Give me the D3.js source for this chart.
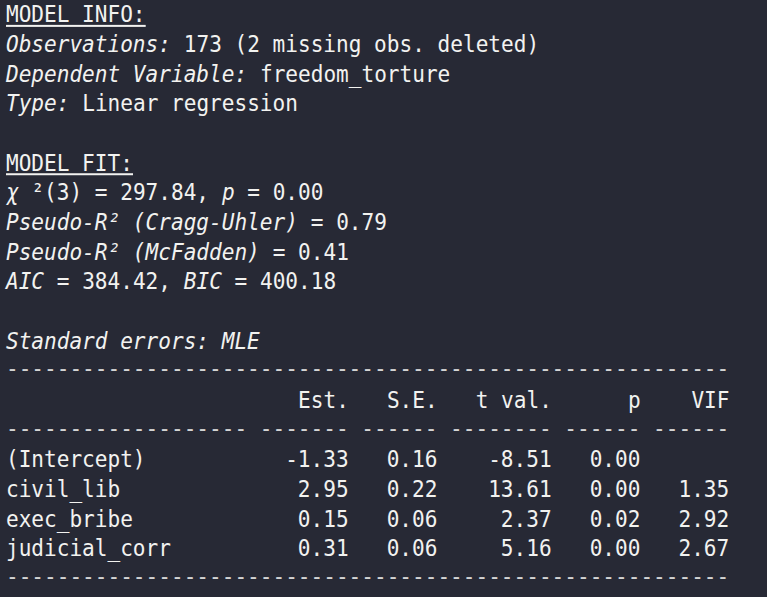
<!DOCTYPE html>
<html>
<head>
<meta charset="utf-8">
<script src="https://cdn.jsdelivr.net/npm/d3@7"></script>
<style>
  html, body { margin: 0; padding: 0; background: #272935; }
  svg { display: block; }
</style>
</head>
<body>
<div id="chart"></div>
<script>
// model info
var nObs = 173, nMissing = 2;
var depVar = "freedom_torture";
var modelType = "Linear regression";
// model fit
var chiDf = 3, chiSq = 297.84, chiP = 0.00;
var r2Cragg = 0.79, r2McFadden = 0.41;
var aic = 384.42, bic = 400.18;
var seType = "MLE";
// coefficient table
var terms = ["(Intercept)", "civil_lib", "exec_bribe", "judicial_corr"];
var est   = [-1.33, 2.95, 0.15, 0.31];
var se    = [0.16, 0.22, 0.06, 0.06];
var tval  = [-8.51, 13.61, 2.37, 5.16];
var pval  = [0.00, 0.00, 0.02, 0.00];
var vif   = [null, 1.35, 2.92, 2.67];
var colNames = ["Est.", "S.E.", "t val.", "p", "VIF"];

// layout (character grid)
var W = 767, H = 597;
var cw = 12.7, lh = 29.67;
var nCols = 57, nLines = 20;
var colW = [19, 7, 6, 8, 6, 6];
var fontSize = 23, sx = cw / (0.602 * fontSize);
var capH = 0.729 * fontSize;

var loc = d3.formatLocale({decimal: ".", thousands: ",", grouping: [3], currency: ["$", ""], minus: "-"});
var f2 = loc.format(".2f");

var xScale = d3.scaleLinear().domain([0, nCols]).range([6, 6 + nCols * cw]);
var yScale = d3.scaleLinear().domain([0, nLines - 1]).range([14, 14 + (nLines - 1) * lh]);

function R(t) { return {t: t}; }
function I(t) { return {t: t, it: true}; }
function padL(s, w) { return String(s).padStart(w); }

// build table lines
var fullDash = [{t: "-".repeat(nCols), dash: true}];
var headerTxt = "".padEnd(colW[0]);
colNames.forEach(function(c, i) { headerTxt += " " + padL(c, colW[i + 1]); });
var segDash = [{t: colW.map(function(w) { return "-".repeat(w); }).join(" "), dash: true}];
var rowLines = terms.map(function(term, i) {
    var vals = [est[i], se[i], tval[i], pval[i], vif[i]];
    var s = term.padEnd(colW[0]);
    vals.forEach(function(v, j) { s += " " + padL(v == null ? "" : f2(v), colW[j + 1]); });
    return [R(s.replace(/\s+$/, ""))];
});

var lines = [
    [{t: "MODEL INFO:", ul: true}],
    [I("Observations:"), R(" " + nObs + " (" + nMissing + " missing obs. deleted)")],
    [I("Dependent Variable:"), R(" " + depVar)],
    [I("Type:"), R(" " + modelType)],
    [],
    [{t: "MODEL FIT:", ul: true}],
    [I("χ"), {t: "²", w: 1, cell: 2}, R("(" + chiDf + ") = " + f2(chiSq) + ", "), I("p"), R(" = " + f2(chiP))],
    [I("Pseudo-R² (Cragg-Uhler)"), R(" = " + f2(r2Cragg))],
    [I("Pseudo-R² (McFadden)"), R(" = " + f2(r2McFadden))],
    [I("AIC"), R(" = " + f2(aic) + ", "), I("BIC"), R(" = " + f2(bic))],
    [],
    [I("Standard errors: " + seType)],
    fullDash,
    [R(headerTxt)],
    segDash
].concat(rowLines, [fullDash]);

var svg = d3.select("#chart").append("svg")
    .attr("width", W)
    .attr("height", H);

svg.append("rect")
    .attr("width", W).attr("height", H)
    .attr("fill", "#272935");

var g = svg.append("g")
    .attr("transform", "scale(" + sx + ",1)");

lines.forEach(function(runs, li) {
    var col = 0;
    var base = yScale(li) + capH / 2;
    runs.forEach(function(r) {
        if (r.cell != null) col = r.cell;
        var m = r.t.match(/^(\s*)(.*?)\s*$/);
        var lead = m[1].length, body = m[2];
        if (body.length) {
            g.append("text")
                .attr("x", xScale(col + lead) / sx)
                .attr("y", r.dash ? base - 2 : base)
                .attr("font-family", "'DejaVu Sans Mono', monospace")
                .attr("font-size", fontSize)
                .attr("font-style", r.it ? "italic" : "normal")
                .attr("fill", r.dash ? "#d4d4d4" : "#f2f2f0")
                .style("white-space", "pre")
                .text(body);
        }
        if (r.ul) {
            svg.append("rect")
                .attr("x", xScale(col))
                .attr("y", base + 2.5)
                .attr("width", xScale(col + r.t.length) - xScale(col))
                .attr("height", 2)
                .attr("fill", "#f2f2f0");
        }
        // χ is a double-width cell in the console font
        col += [...r.t].reduce(function(a, c) { return a + (c === "χ" ? 2 : 1); }, 0);
    });
});
</script>
</body>
</html>
